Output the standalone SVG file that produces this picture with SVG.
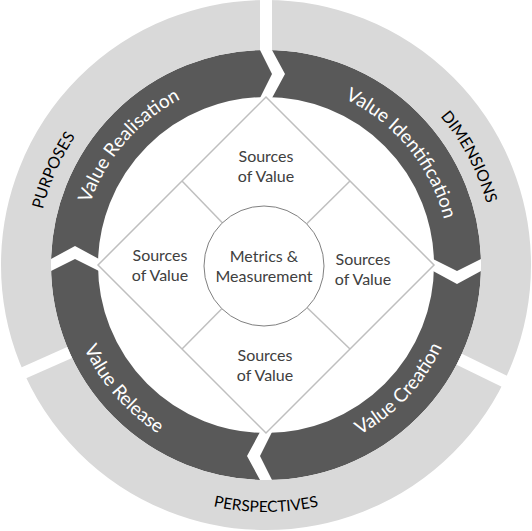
<svg xmlns="http://www.w3.org/2000/svg" width="532" height="531" viewBox="0 0 532 531">
<style>
.ring-label{font-family:Lato,"Open Sans",sans-serif;font-size:19px;fill:#ffffff}
.outer-label{font-family:Lato,"Open Sans",sans-serif;font-size:16px;fill:#000000}
.inner{font-family:Lato,"Open Sans",sans-serif;font-size:16px;fill:#404040;text-anchor:middle}
.gap{fill:#ffffff}
.div{stroke:#bfbfbf;stroke-width:1.5;fill:none}
</style>
<defs>
<path id="pPurposes" d="M106.2,430.4 A230,230 0 0 1 282.0,35.6"/>
<path id="pDimensions" d="M234.1,38.2 A229,229 0 0 1 436.2,418.2"/>
<path id="pPerspectives" d="M33.9,349.5 A247,247 0 0 0 498.1,349.5"/>
<path id="pRealisation" d="M102.9,355.4 A186.5,186.5 0 0 1 332.8,90.9"/>
<path id="pIdentification" d="M204.6,91.6 A184,184 0 0 1 424.5,358.4"/>
<path id="pRelease" d="M91.1,168.0 A200,200 0 0 0 337.7,451.7"/>
<path id="pCreation" d="M190.2,443.6 A194,194 0 0 0 438.9,176.9"/>
<polygon id="chev" points="-6,-222 6,-222 6,-215 19,-191 6,-167 6,-160 -6,-160 -6,-167 6,-191 -6,-215"/>
<rect id="lgap" x="-6" y="-272" width="12" height="57"/>
</defs>
<rect width="532" height="531" fill="#ffffff"/>
<g id="inner-ring">
<circle cx="266" cy="265" r="191.5" fill="none" stroke="#595959" stroke-width="47"/>
<use href="#chev" class="gap" transform="translate(266,265)"/>
<use href="#chev" class="gap" transform="translate(266,265) rotate(90)"/>
<use href="#chev" class="gap" transform="translate(266,265) rotate(180)"/>
<use href="#chev" class="gap" transform="translate(266,265) rotate(270)"/>
</g>
<g id="outer-ring">
<circle cx="266" cy="265" r="240" fill="none" stroke="#d9d9d9" stroke-width="50"/>
<use href="#lgap" class="gap" transform="translate(266,265)"/>
<use href="#lgap" class="gap" transform="translate(266,265) rotate(116)"/>
<use href="#lgap" class="gap" transform="translate(266,265) rotate(246)"/>
</g>
<g id="purposes"><text class="outer-label"><textPath href="#pPurposes" startOffset="50%" text-anchor="middle">PURPOSES</textPath></text></g>
<g id="dimensions"><text class="outer-label"><textPath href="#pDimensions" startOffset="50%" text-anchor="middle">DIMENSIONS</textPath></text></g>
<g id="perspectives"><text class="outer-label" style="font-size:15.5px"><textPath href="#pPerspectives" startOffset="50%" text-anchor="middle">PERSPECTIVES</textPath></text></g>
<g id="value-realisation"><text class="ring-label"><textPath href="#pRealisation" startOffset="50%" text-anchor="middle">Value Realisation</textPath></text></g>
<g id="value-identification"><text class="ring-label"><textPath href="#pIdentification" startOffset="50%" text-anchor="middle">Value Identification</textPath></text></g>
<g id="value-creation"><text class="ring-label"><textPath href="#pCreation" startOffset="50%" text-anchor="middle">Value Creation</textPath></text></g>
<g id="value-release"><text class="ring-label"><textPath href="#pRelease" startOffset="50%" text-anchor="middle">Value Release</textPath></text></g>
<g id="diamond">
<polygon points="266,97 434,265 266,433 98,265" class="div"/>
</g>
<g id="connectors">
<line class="div" x1="182" y1="181" x2="222.3" y2="222.8"/>
<line class="div" x1="350" y1="181" x2="306.7" y2="223.8"/>
<line class="div" x1="182" y1="349" x2="221.8" y2="308.7"/>
<line class="div" x1="350" y1="349" x2="307.2" y2="307.7"/>
</g>
<g id="sources-top"><text class="inner" x="266" y="162">Sources</text><text class="inner" x="266" y="182">of Value</text></g>
<g id="sources-left"><text class="inner" x="160" y="261">Sources</text><text class="inner" x="160" y="281">of Value</text></g>
<g id="sources-right"><text class="inner" x="363" y="265">Sources</text><text class="inner" x="363" y="285">of Value</text></g>
<g id="sources-bottom"><text class="inner" x="265" y="361">Sources</text><text class="inner" x="265" y="381">of Value</text></g>
<g id="metrics">
<circle cx="264" cy="266" r="60" fill="#ffffff" stroke="#808080" stroke-width="1"/>
<text class="inner" x="264" y="262">Metrics &amp;</text>
<text class="inner" x="264" y="282">Measurement</text>
</g>
</svg>
